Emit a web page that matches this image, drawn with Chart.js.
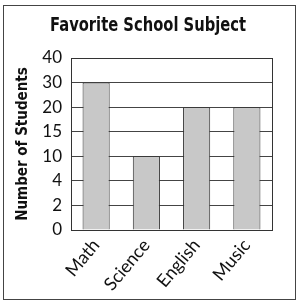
<!DOCTYPE html>
<html>
<head>
<meta charset="utf-8">
<script src="https://cdn.jsdelivr.net/npm/chart.js@4"></script>
<style>
  html, body { margin: 0; padding: 0; background: #fff; }
  #wrap { position: relative; width: 300px; height: 307px; }
  #frame { position: absolute; left: 3px; top: 5px; width: 291px; height: 293px; border: 1.5px solid #444; pointer-events: none; }
  canvas { position: absolute; left: 0; top: 0; }
</style>
</head>
<body>
<div id="wrap">
  <canvas id="c" width="300" height="307"></canvas>
  <div id="frame"></div>
</div>
<script>
const categories = ['Math', 'Science', 'English', 'Music'];
const studentCounts = [30, 10, 20, 20];
const tickLabels = [0, 2, 4, 10, 15, 20, 30, 40];
const chartTitle = 'Favorite School Subject';
const yAxisTitle = 'Number of Students';

// The y axis is evenly spaced by tick position (not by value);
// each bar is placed at the position of its value among the tick labels.
const barPositions = studentCounts.map(v => tickLabels.indexOf(v));

const plotBorder = {
  id: 'plotBorder',
  afterDatasetsDraw(chart) {
    const a = chart.chartArea, ctx = chart.ctx;
    ctx.save();
    ctx.strokeStyle = '#333';
    ctx.lineWidth = 1;
    ctx.strokeRect(Math.round(a.left) + 0.5, Math.round(a.top) + 0.5,
                   Math.round(a.right - a.left), Math.round(a.bottom - a.top));
    ctx.restore();
  }
};

// Condensed heavy title (like the reference's bold condensed face)
const condensedTitle = {
  id: 'condensedTitle',
  afterDraw(chart, args, opts) {
    const ctx = chart.ctx;
    ctx.save();
    ctx.font = 'bold 20px "DejaVu Sans", sans-serif';
    ctx.fillStyle = '#111';
    ctx.textBaseline = 'alphabetic';
    ctx.textAlign = 'left';
    const w = ctx.measureText(opts.text).width;
    const sx = opts.width / w;
    ctx.translate(opts.centerX - opts.width / 2, opts.baseline);
    ctx.scale(sx, 1);
    ctx.fillText(opts.text, 0, 0);
    ctx.restore();
  }
};

new Chart(document.getElementById('c'), {
  type: 'bar',
  data: {
    labels: categories,
    datasets: [{
      data: barPositions,
      backgroundColor: '#c8c8c8',
      borderColor: '#333',
      borderWidth: 1,
      barPercentage: 0.54,
      categoryPercentage: 1.0
    }]
  },
  options: {
    responsive: false,
    animation: false,
    devicePixelRatio: 1,
    layout: { padding: { left: 0, right: 28, top: 58, bottom: 0 } },
    plugins: {
      legend: { display: false },
      tooltip: { enabled: false },
      title: { display: false },
      condensedTitle: { text: chartTitle, centerX: 148, width: 196, baseline: 31 }
    },
    scales: {
      x: {
        grid: { display: false, drawTicks: false },
        border: { display: true, color: '#333' },
        ticks: {
          color: '#111',
          minRotation: 50,
          maxRotation: 50,
          padding: 5,
          font: { family: 'Lato, "Open Sans", sans-serif', size: 18 }
        },
        afterFit(s) { s.height = 77; }
      },
      y: {
        min: 0,
        max: tickLabels.length - 1,
        grid: { color: '#444', lineWidth: 1, drawTicks: false },
        border: { display: true, color: '#333' },
        ticks: {
          stepSize: 1,
          color: '#111',
          padding: 9,
          font: { family: 'Lato, "Open Sans", sans-serif', size: 17 },
          callback: (v) => tickLabels[v] !== undefined ? String(tickLabels[v]) : ''
        },
        title: {
          display: true,
          text: yAxisTitle,
          color: '#111',
          font: { family: '"DejaVu Sans Condensed", sans-serif', size: 15, weight: 'bold', lineHeight: 1.2 },
          padding: { top: 14, bottom: 0 }
        },
        afterFit(s) { s.width = 71; }
      }
    }
  },
  plugins: [plotBorder, condensedTitle]
});
</script>
</body>
</html>
